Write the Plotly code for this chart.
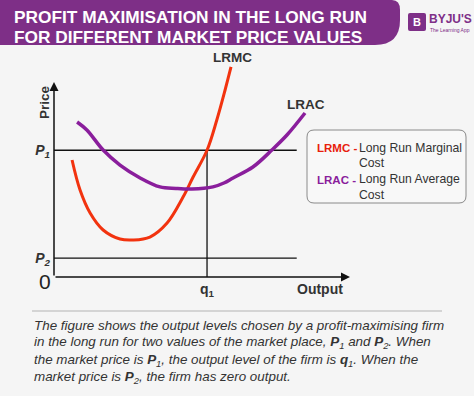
import plotly.graph_objects as go

# ---------------- data ----------------
lrmc_q = [0.61, 0.88, 1.22, 1.66, 2.23, 2.67, 3.24, 3.82, 4.36, 4.70, 5.17, 5.50, 5.78, 5.98]
lrmc_p = [6.00, 4.46, 3.28, 2.41, 1.95, 1.90, 2.05, 2.77, 4.10, 5.13, 6.50, 8.05, 9.59, 10.77]
lrac_q = [0.78, 1.11, 1.66, 2.23, 2.91, 3.58, 4.12, 4.66, 5.37, 5.74, 6.05, 6.72, 7.36, 7.87, 8.48]
lrac_p = [7.95, 7.54, 6.51, 5.74, 5.08, 4.62, 4.54, 4.51, 4.62, 4.82, 5.08, 5.64, 6.51, 7.28, 8.41]
price_levels = [6.5, 0.97]
price_labels = ["P<sub>1</sub>", "P<sub>2</sub>"]
output_levels = [5.17]
output_labels = ["q<sub>1</sub>"]
line_end_q = 8.2
axis_max_q = 10
axis_max_p = 10

W, H = 474, 396
BG = "#f5f5f5"
PURPLE = "#7e2f87"
RED = "#f2330f"
CPURPLE = "#8a1e9c"
DARK = "#333333"
FONT = "Liberation Sans, Arial, sans-serif"


def px(x):
    return x / W


def py(y):
    return 1 - y / H


fig = go.Figure()

# curves
fig.add_trace(go.Scatter(x=lrmc_q, y=lrmc_p, mode="lines", line=dict(color=RED, width=3, shape="spline"),
                         hoverinfo="skip", showlegend=False))
fig.add_trace(go.Scatter(x=lrac_q, y=lrac_p, mode="lines", line=dict(color=CPURPLE, width=3.5, shape="spline"),
                         hoverinfo="skip", showlegend=False))

shapes = []
# price lines
for p in price_levels:
    shapes.append(dict(type="line", xref="x", yref="y", x0=0, x1=line_end_q, y0=p, y1=p,
                       line=dict(color="#111", width=1.3), layer="below"))
# q1 vertical
for q in output_levels:
    shapes.append(dict(type="line", xref="x", yref="y", x0=q, x1=q, y0=0, y1=price_levels[0],
                       line=dict(color="#111", width=1.3), layer="below"))

# banner
shapes.append(dict(type="path", xref="paper", yref="paper",
                   path=f"M {px(0)},{py(0)} L {px(392)},{py(0)} Q {px(400)},{py(0)} {px(400)},{py(10)} "
                        f"L {px(400)},{py(20)} Q {px(400)},{py(45)} {px(375)},{py(45)} L {px(0)},{py(45)} Z",
                   fillcolor=PURPLE, line=dict(width=0), layer="below"))
# logo square
shapes.append(dict(type="path", xref="paper", yref="paper",
                   path=f"M {px(410)},{py(13)} L {px(424)},{py(13)} Q {px(426)},{py(13)} {px(426)},{py(15)} "
                        f"L {px(426)},{py(29)} Q {px(426)},{py(31)} {px(424)},{py(31)} L {px(410)},{py(31)} "
                        f"Q {px(408)},{py(31)} {px(408)},{py(29)} L {px(408)},{py(15)} Q {px(408)},{py(13)} {px(410)},{py(13)} Z",
                   fillcolor=PURPLE, line=dict(width=0)))
# legend box (rounded)
x0, x1, y0, y1, r = 307, 466, 130, 203, 7
shapes.append(dict(type="path", xref="paper", yref="paper",
                   path=f"M {px(x0+r)},{py(y0)} L {px(x1-r)},{py(y0)} Q {px(x1)},{py(y0)} {px(x1)},{py(y0+r)} "
                        f"L {px(x1)},{py(y1-r)} Q {px(x1)},{py(y1)} {px(x1-r)},{py(y1)} L {px(x0+r)},{py(y1)} "
                        f"Q {px(x0)},{py(y1)} {px(x0)},{py(y1-r)} L {px(x0)},{py(y0+r)} Q {px(x0)},{py(y0)} {px(x0+r)},{py(y0)} Z",
                   fillcolor="#f8f8f8", line=dict(color="#8a8a8a", width=1)))
# separator line above caption
shapes.append(dict(type="line", xref="paper", yref="paper", x0=px(32), x1=px(442), y0=py(311), y1=py(311),
                   line=dict(color="#c8c8c8", width=1.5)))

ann = []
# axes arrows
ann.append(dict(x=0, y=axis_max_p, ax=0, ay=0, xref="x", yref="y", axref="x", ayref="y", text="",
                showarrow=True, arrowhead=2, arrowsize=1.2, arrowwidth=1.5, arrowcolor="#111"))
ann.append(dict(x=axis_max_q, y=0, ax=0, ay=0, xref="x", yref="y", axref="x", ayref="y", text="",
                showarrow=True, arrowhead=2, arrowsize=1.2, arrowwidth=1.5, arrowcolor="#111"))


def text(x, y, t, size, color=DARK, xanchor="center", **kw):
    ann.append(dict(x=px(x), y=py(y), xref="paper", yref="paper", text=t, showarrow=False,
                    xanchor=xanchor, yanchor="middle", font=dict(size=size, color=color, family=FONT), **kw))


# title
text(12, 17, "<b>PROFIT MAXIMISATION IN THE LONG RUN</b>", 17.3, "white", "left")
text(12, 37, "<b>FOR DIFFERENT MARKET PRICE VALUES</b>", 17.3, "white", "left")
# logo
text(417, 22, "<b>B</b>", 11, "white")
text(427, 19, "<b>BYJU'S</b>", 12, PURPLE, "left")
text(428, 30, "The Learning App", 5, PURPLE, "left")

# curve labels
text(232, 58, "<b>LRMC</b>", 13.5)
text(306, 104, "<b>LRAC</b>", 13.5)

# axis labels
text(44, 102, "<b>Price</b>", 13.5, DARK, textangle=-90)
text(320, 289, "<b>Output</b>", 14)
text(45, 281, "0", 21, "#222")

# legend
text(315, 148, "<b>LRMC -</b>", 11.5, "#e8200c", "left")
text(357, 148, "Long Run Marginal", 12.2, DARK, "left")
text(357, 163, "Cost", 12.2, DARK, "left")
text(315, 180, "<b>LRAC -</b>", 11.5, CPURPLE, "left")
text(357, 179, "Long Run Average", 12.2, DARK, "left")
text(357, 195, "Cost", 12.2, DARK, "left")

# caption
cap = [
    "The figure shows the output levels chosen by a profit-maximising firm",
    "in the long run for two values of the market place, <b>P</b><sub>1</sub> and <b>P</b><sub>2</sub>. When",
    "the market price is <b>P</b><sub>1</sub>, the output level of the firm is <b>q</b><sub>1</sub>. When the",
    "market price is <b>P</b><sub>2</sub>, the firm has zero output.",
]
for i, line in enumerate(cap):
    text(32, 325.5 + i * 17.3, f"<i>{line}</i>", 13.4, DARK, "left")

fig.update_layout(
    width=W, height=H, margin=dict(l=0, r=0, t=0, b=0),
    paper_bgcolor=BG, plot_bgcolor=BG, showlegend=False,
    shapes=shapes, annotations=ann,
    xaxis=dict(domain=[px(54), px(350)], range=[0, axis_max_q], showgrid=False, zeroline=False,
               showline=False, tickmode="array", tickvals=output_levels,
               ticktext=[f"<b>{t}</b>" for t in output_labels], ticks="", ticklabelstandoff=2,
               tickfont=dict(size=14, color=DARK, family=FONT), fixedrange=True),
    yaxis=dict(domain=[py(277), py(50)], range=[0, (277 - 50) / 19.5], showgrid=False, zeroline=False,
               showline=False, tickmode="array", tickvals=price_levels,
               ticktext=[f"<b><i>{t}</i></b>" for t in price_labels], ticks="", ticklabelstandoff=3,
               tickfont=dict(size=14, color=DARK, family=FONT), fixedrange=True),
)

fig.write_html("out.html", config=dict(displayModeBar=False),
               post_script="document.body.style.margin='0px';document.body.style.padding='0px';"
                           "document.body.style.background='" + BG + "';")
